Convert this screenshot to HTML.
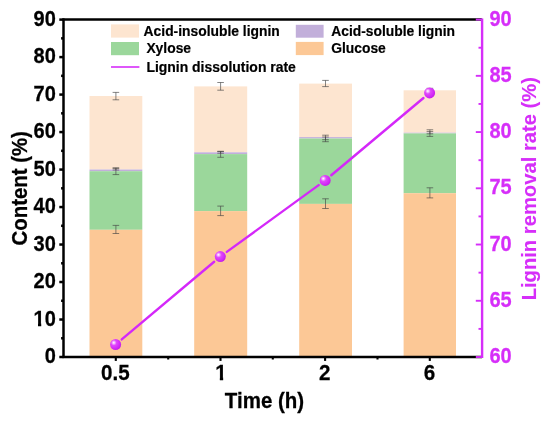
<!DOCTYPE html>
<html><head><meta charset="utf-8"><title>Chart</title>
<style>html,body{margin:0;padding:0;background:#fff}svg{display:block}text{font-family:"Liberation Sans",sans-serif;font-weight:bold}</style></head><body>
<svg width="550" height="421" viewBox="0 0 550 421">
<defs><radialGradient id="ball" cx="0.36" cy="0.36" r="0.66" fx="0.33" fy="0.33"><stop offset="0" stop-color="#ffffff"/><stop offset="0.1" stop-color="#f9d4ff"/><stop offset="0.38" stop-color="#e048fb"/><stop offset="0.75" stop-color="#d42cf8"/><stop offset="1" stop-color="#c51fe8"/></radialGradient><clipPath id="c1"><path d="M-10 -20H10V-3.1H2.15V1H-1.15V-3.1H-10Z"/></clipPath><clipPath id="c10"><path d="M-30 -20H1V2H-10.9V-2.6H-14.6V2H-17.8V-2.6H-30Z"/></clipPath></defs>
<rect width="550" height="421" fill="#fff"/>
<rect x="89.5" y="96.0" width="52.8" height="73.50" fill="#fde5d0"/>
<rect x="89.5" y="169.5" width="52.8" height="1.70" fill="#c2afda"/>
<rect x="89.5" y="171.2" width="52.8" height="58.60" fill="#9bd79b"/>
<rect x="89.5" y="229.8" width="52.8" height="127.20" fill="#fcc896"/>
<rect x="194.2" y="86.4" width="53.0" height="65.90" fill="#fde5d0"/>
<rect x="194.2" y="152.3" width="53.0" height="1.80" fill="#c2afda"/>
<rect x="194.2" y="154.1" width="53.0" height="57.00" fill="#9bd79b"/>
<rect x="194.2" y="211.1" width="53.0" height="145.90" fill="#fcc896"/>
<rect x="299.2" y="83.6" width="52.8" height="53.50" fill="#fde5d0"/>
<rect x="299.2" y="137.1" width="52.8" height="1.40" fill="#c2afda"/>
<rect x="299.2" y="138.5" width="52.8" height="65.40" fill="#9bd79b"/>
<rect x="299.2" y="203.9" width="52.8" height="153.10" fill="#fcc896"/>
<rect x="403.6" y="90.3" width="52.4" height="42.40" fill="#fde5d0"/>
<rect x="403.6" y="132.7" width="52.4" height="0.70" fill="#c2afda"/>
<rect x="403.6" y="133.4" width="52.4" height="59.80" fill="#9bd79b"/>
<rect x="403.6" y="193.2" width="52.4" height="163.80" fill="#fcc896"/>
<g stroke="#444" stroke-width="0.65" fill="none">
<path d="M112.6 92.4H119.2M112.6 99.8H119.2M115.9 92.4V99.8"/>
<path d="M112.6 168.4H119.2M112.6 170.0H119.2M115.9 168.4V170.0"/>
<path d="M112.6 167.8H119.2M112.6 174.6H119.2M115.9 167.8V174.6"/>
<path d="M112.6 225.4H119.2M112.6 233.5H119.2M115.9 225.4V233.5"/>
<path d="M217.3 82.5H223.9M217.3 90.2H223.9M220.6 82.5V90.2"/>
<path d="M217.3 151.4H223.9M217.3 153.2H223.9M220.6 151.4V153.2"/>
<path d="M217.3 151.4H223.9M217.3 157.3H223.9M220.6 151.4V157.3"/>
<path d="M217.3 206.1H223.9M217.3 215.6H223.9M220.6 206.1V215.6"/>
<path d="M322.2 80.4H328.8M322.2 86.6H328.8M325.5 80.4V86.6"/>
<path d="M322.2 135.2H328.8M322.2 139.7H328.8M325.5 135.2V139.7"/>
<path d="M322.2 137.0H328.8M322.2 141.7H328.8M325.5 137.0V141.7"/>
<path d="M322.2 198.8H328.8M322.2 208.5H328.8M325.5 198.8V208.5"/>
<path d="M426.6 88.3H433.2M426.6 92.8H433.2M429.9 88.3V92.8"/>
<path d="M426.6 131.6H433.2M426.6 133.8H433.2M429.9 131.6V133.8"/>
<path d="M426.6 129.8H433.2M426.6 136.4H433.2M429.9 129.8V136.4"/>
<path d="M426.6 187.8H433.2M426.6 197.9H433.2M429.9 187.8V197.9"/>
</g>
<g stroke="#000" stroke-width="2.5" fill="none">
<path d="M63.5 18.6V358.0"/>
<path d="M62.5 357.0H482.1"/>
<path d="M62.5 19.6H482.1"/>
<path d="M59.3 357.00H63.5"/>
<path d="M59.3 319.51H63.5"/>
<path d="M59.3 282.02H63.5"/>
<path d="M59.3 244.53H63.5"/>
<path d="M59.3 207.04H63.5"/>
<path d="M59.3 169.56H63.5"/>
<path d="M59.3 132.07H63.5"/>
<path d="M59.3 94.58H63.5"/>
<path d="M59.3 57.09H63.5"/>
<path d="M59.3 19.60H63.5"/>
<path d="M61.1 338.26H63.5"/>
<path d="M61.1 300.77H63.5"/>
<path d="M61.1 263.28H63.5"/>
<path d="M61.1 225.79H63.5"/>
<path d="M61.1 188.30H63.5"/>
<path d="M61.1 150.81H63.5"/>
<path d="M61.1 113.32H63.5"/>
<path d="M61.1 75.83H63.5"/>
<path d="M61.1 38.34H63.5"/>
<path d="M115.8 357.0V360.9" stroke-width="2.1"/>
<path d="M220.5 357.0V360.9" stroke-width="2.1"/>
<path d="M325.1 357.0V360.9" stroke-width="2.1"/>
<path d="M429.8 357.0V360.9" stroke-width="2.1"/>
<path d="M168.2 357.0V359.5" stroke-width="2.1"/>
<path d="M272.8 357.0V359.5" stroke-width="2.1"/>
<path d="M377.5 357.0V359.5" stroke-width="2.1"/>
</g>
<g stroke="#d62ef9" stroke-width="2.4" fill="none">
<path d="M482.1 18.6V358.0"/>
<path d="M475.8 357.00H482.1" stroke-width="1.9"/>
<path d="M475.8 300.77H482.1" stroke-width="1.9"/>
<path d="M475.8 244.53H482.1" stroke-width="1.9"/>
<path d="M475.8 188.30H482.1" stroke-width="1.9"/>
<path d="M475.8 132.07H482.1" stroke-width="1.9"/>
<path d="M475.8 75.83H482.1" stroke-width="1.9"/>
<path d="M475.8 19.60H482.1" stroke-width="1.9"/>
<path d="M478.5 328.88H482.1" stroke-width="1.9"/>
<path d="M478.5 272.65H482.1" stroke-width="1.9"/>
<path d="M478.5 216.42H482.1" stroke-width="1.9"/>
<path d="M478.5 160.18H482.1" stroke-width="1.9"/>
<path d="M478.5 103.95H482.1" stroke-width="1.9"/>
<path d="M478.5 47.72H482.1" stroke-width="1.9"/>
</g>
<g stroke="#d428f9" stroke-width="2.4" stroke-linecap="round" fill="none">
<path d="M121.73 339.36L214.17 261.74"/>
<path d="M226.77 251.90L318.68 185.10"/>
<path d="M331.28 175.26L423.47 98.04"/>
</g>
<circle cx="115.6" cy="344.5" r="5.5" fill="url(#ball)"/>
<circle cx="220.3" cy="256.6" r="5.5" fill="url(#ball)"/>
<circle cx="325.15" cy="180.4" r="5.5" fill="url(#ball)"/>
<circle cx="429.6" cy="92.9" r="5.5" fill="url(#ball)"/>
<text transform="translate(55.8 363.10) scale(1 1.09)" font-size="20" text-anchor="end" stroke="#000" stroke-width="0.25">0</text>
<text transform="translate(55.8 325.61) scale(1 1.09)" font-size="20" text-anchor="end" stroke="#000" stroke-width="0.25" clip-path="url(#c10)">10</text>
<text transform="translate(55.8 288.12) scale(1 1.09)" font-size="20" text-anchor="end" stroke="#000" stroke-width="0.25">20</text>
<text transform="translate(55.8 250.63) scale(1 1.09)" font-size="20" text-anchor="end" stroke="#000" stroke-width="0.25">30</text>
<text transform="translate(55.8 213.14) scale(1 1.09)" font-size="20" text-anchor="end" stroke="#000" stroke-width="0.25">40</text>
<text transform="translate(55.8 175.66) scale(1 1.09)" font-size="20" text-anchor="end" stroke="#000" stroke-width="0.25">50</text>
<text transform="translate(55.8 138.17) scale(1 1.09)" font-size="20" text-anchor="end" stroke="#000" stroke-width="0.25">60</text>
<text transform="translate(55.8 100.68) scale(1 1.09)" font-size="20" text-anchor="end" stroke="#000" stroke-width="0.25">70</text>
<text transform="translate(55.8 63.19) scale(1 1.09)" font-size="20" text-anchor="end" stroke="#000" stroke-width="0.25">80</text>
<text transform="translate(55.8 25.70) scale(1 1.09)" font-size="20" text-anchor="end" stroke="#000" stroke-width="0.25">90</text>
<text transform="translate(489.4 363.00) scale(1 1.09)" font-size="20" fill="#d62ef9" stroke="#d62ef9" stroke-width="0.25">60</text>
<text transform="translate(489.4 306.77) scale(1 1.09)" font-size="20" fill="#d62ef9" stroke="#d62ef9" stroke-width="0.25">65</text>
<text transform="translate(489.4 250.53) scale(1 1.09)" font-size="20" fill="#d62ef9" stroke="#d62ef9" stroke-width="0.25">70</text>
<text transform="translate(489.4 194.30) scale(1 1.09)" font-size="20" fill="#d62ef9" stroke="#d62ef9" stroke-width="0.25">75</text>
<text transform="translate(489.4 138.07) scale(1 1.09)" font-size="20" fill="#d62ef9" stroke="#d62ef9" stroke-width="0.25">80</text>
<text transform="translate(489.4 81.83) scale(1 1.09)" font-size="20" fill="#d62ef9" stroke="#d62ef9" stroke-width="0.25">85</text>
<text transform="translate(489.4 25.60) scale(1 1.09)" font-size="20" fill="#d62ef9" stroke="#d62ef9" stroke-width="0.25">90</text>
<text transform="translate(115.4 380.15) scale(1 1.055)" font-size="20.6" text-anchor="middle" stroke="#000" stroke-width="0.25">0.5</text>
<text transform="translate(221.0 380.15) scale(1 1.055)" font-size="20.6" text-anchor="middle" stroke="#000" stroke-width="0.25" clip-path="url(#c1)">1</text>
<text transform="translate(324.7 380.15) scale(1 1.055)" font-size="20.6" text-anchor="middle" stroke="#000" stroke-width="0.25">2</text>
<text transform="translate(429.4 380.15) scale(1 1.055)" font-size="20.6" text-anchor="middle" stroke="#000" stroke-width="0.25">6</text>
<text transform="translate(264.5 407.7) scale(1 1.09)" font-size="20.5" text-anchor="middle" stroke="#000" stroke-width="0.25">Time (h)</text>
<text transform="translate(26.8 188.3) rotate(-90) scale(1 1.09)" font-size="20.4" text-anchor="middle" stroke="#000" stroke-width="0.25">Content (%)</text>
<text transform="translate(536.4 188.7) rotate(-90) scale(1 1.03)" font-size="20.2" text-anchor="middle" fill="#d62ef9" stroke="#d62ef9" stroke-width="0.1">Lignin removal rate (%)</text>
<rect x="111" y="24.4" width="28" height="13.2" fill="#fde5d0"/>
<rect x="111" y="42" width="28" height="13.2" fill="#9bd79b"/>
<path d="M111 67H139.4" stroke="#d62ef9" stroke-width="1.6"/>
<rect x="295.8" y="24.8" width="27.8" height="12.9" fill="#c2afda"/>
<rect x="295.8" y="41.9" width="27.8" height="13.2" fill="#fcc896"/>
<text x="143.6" y="35.7" font-size="13.85" stroke="#000" stroke-width="0.2">Acid-insoluble lignin</text>
<text x="146.4" y="53.3" font-size="13.85" stroke="#000" stroke-width="0.2">Xylose</text>
<text x="146.4" y="72.2" font-size="13.95" stroke="#000" stroke-width="0.2">Lignin dissolution rate</text>
<text x="331.2" y="35.7" font-size="13.85" stroke="#000" stroke-width="0.2">Acid-soluble lignin</text>
<text x="331.2" y="53.3" font-size="13.85" stroke="#000" stroke-width="0.2">Glucose</text>
</svg></body></html>
